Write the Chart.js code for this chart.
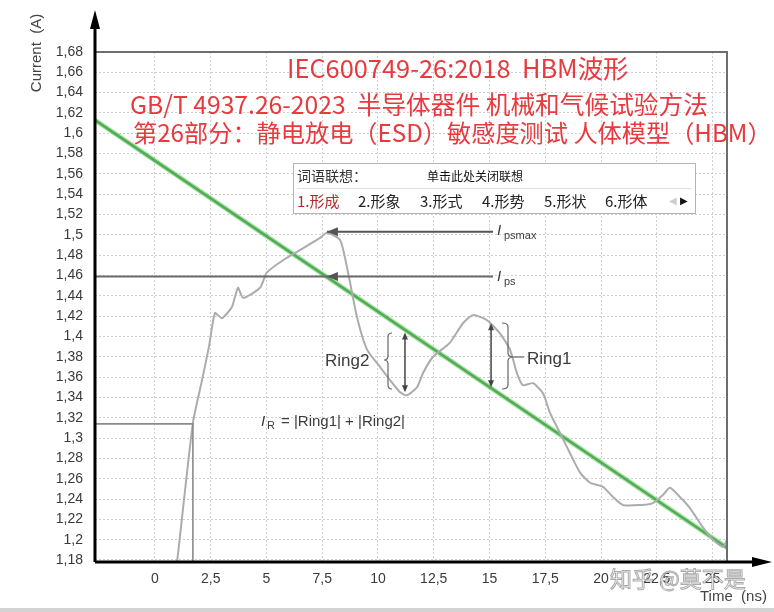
<!DOCTYPE html>
<html>
<head>
<meta charset="utf-8">
<script src="https://cdn.jsdelivr.net/npm/chart.js@4/dist/chart.umd.min.js"></script>
<style>
  html, body { margin: 0; padding: 0; background: #fff; }
</style>
</head>
<body>
<canvas id="grafico" width="774" height="612"></canvas>
<script>
// Forma de onda HBM
const timeNs = [0.85, 0.99, 1.70, 2.11, 2.42, 2.69, 3.00, 3.45, 3.72, 3.95, 4.71, 5.02, 5.74, 6.50, 7.40, 7.71,
  8.30, 8.61, 9.06, 9.51, 10.09, 10.54, 10.99, 11.30, 11.75, 12.02, 12.47, 13.23, 13.81, 14.26, 14.89,
  15.47, 15.92, 16.23, 16.50, 16.95, 17.40, 17.71, 18.16, 18.61, 19.06, 19.51, 20.09, 20.54, 20.99,
  21.75, 22.33, 22.78, 23.09, 23.54, 23.99, 24.57, 25.02, 25.47, 25.65];
const currentA = [1.160, 1.178, 1.315, 1.357, 1.390, 1.423, 1.418, 1.429, 1.448, 1.438, 1.448, 1.463, 1.475, 1.485, 1.497, 1.502,
  1.495, 1.468, 1.419, 1.387, 1.370, 1.357, 1.345, 1.342, 1.350, 1.364, 1.380, 1.394, 1.413, 1.421, 1.416,
  1.403, 1.387, 1.364, 1.352, 1.354, 1.344, 1.325, 1.305, 1.285, 1.266, 1.256, 1.252, 1.242, 1.234,
  1.234, 1.236, 1.244, 1.251, 1.242, 1.231, 1.212, 1.200, 1.193, 1.200];

// Recta verde (dos extremos)
const rectaX = [-2.69, 25.65];
const rectaY = [1.613, 1.192];

// Niveles de referencia
const nivelIps = 1.459;
const nivelIpsMax = 1.503;
const flechaX = [7.71, 15.16];
const guiaX = 1.70;
const guiaY = 1.314;
const ring2 = { x: 11.21, arriba: 1.404, abajo: 1.345 };
const ring1 = { x: 15.07, arriba: 1.413, abajo: 1.350 };

// Marcas de los ejes
const xTicks = [0, 2.5, 5, 7.5, 10, 12.5, 15, 17.5, 20, 22.5, 25];
const yTicks = [1.18, 1.2, 1.22, 1.24, 1.26, 1.28, 1.3, 1.32, 1.34, 1.36, 1.38, 1.4, 1.42, 1.44,
  1.46, 1.48, 1.5, 1.52, 1.54, 1.56, 1.58, 1.6, 1.62, 1.64, 1.66, 1.68];

const rojo = "#e8393e";
const coma = v => String(Number(v.toFixed(2))).replace(".", ",");

function flecha(ctx, x, y, dx, dy, largo, ancho) {
  // punta en (x,y) apuntando en dirección (dx,dy)
  ctx.beginPath();
  ctx.moveTo(x, y);
  ctx.lineTo(x - dx * largo - dy * ancho, y - dy * largo + dx * ancho);
  ctx.lineTo(x - dx * largo + dy * ancho, y - dy * largo - dx * ancho);
  ctx.closePath();
  ctx.fill();
}

function llave(ctx, xBrazo, xPunta, y1, y2, yMedio) {
  const xm = (xBrazo + xPunta) / 2, r = 4;
  ctx.beginPath();
  ctx.moveTo(xBrazo, y1);
  ctx.quadraticCurveTo(xm, y1, xm, y1 + r);
  ctx.lineTo(xm, yMedio - r);
  ctx.quadraticCurveTo(xm, yMedio, xPunta, yMedio);
  ctx.quadraticCurveTo(xm, yMedio, xm, yMedio + r);
  ctx.lineTo(xm, y2 - r);
  ctx.quadraticCurveTo(xm, y2, xBrazo, y2);
  ctx.stroke();
}

function textoAjustado(ctx, texto, x, y, ancho, familia) {
  ctx.font = "20px " + familia;
  const t = 20 * ancho / ctx.measureText(texto).width;
  ctx.font = t.toFixed(1) + "px " + familia;
  ctx.fillText(texto, x, y);
}

const dibujo = {
  id: "dibujo",
  beforeDraw(chart) {
    const ctx = chart.ctx;
    ctx.save();
    ctx.fillStyle = "#fff";
    ctx.fillRect(0, 0, chart.width, chart.height);
    ctx.restore();
  },
  afterDatasetsDraw(chart) {
    const ctx = chart.ctx;
    const a = chart.chartArea;
    const sx = chart.scales.x, sy = chart.scales.y;
    const px = v => sx.getPixelForValue(v), py = v => sy.getPixelForValue(v);
    ctx.save();

    // marco superior y derecho
    ctx.strokeStyle = "#6e6e6e";
    ctx.lineWidth = 2;
    ctx.beginPath();
    ctx.moveTo(a.left, a.top); ctx.lineTo(a.right, a.top); ctx.lineTo(a.right, a.bottom);
    ctx.stroke();

    // ejes con flecha
    ctx.strokeStyle = "#000";
    ctx.fillStyle = "#000";
    ctx.lineWidth = 3;
    ctx.beginPath();
    ctx.moveTo(a.left, a.bottom); ctx.lineTo(a.left, 26);
    ctx.moveTo(a.left, a.bottom); ctx.lineTo(756, a.bottom);
    ctx.stroke();
    flecha(ctx, a.left, 10, 0, -1, 19, 5);
    flecha(ctx, 772, a.bottom, 1, 0, 20, 5);

    // flechas Ipsmax e Ips
    ctx.fillStyle = "#555";
    flecha(ctx, px(flechaX[0]), py(nivelIpsMax), -1, 0, 11, 4.5);
    flecha(ctx, px(flechaX[0]), py(nivelIps), -1, 0, 11, 4.5);

    // Ring2 / Ring1
    ctx.strokeStyle = "#444";
    ctx.fillStyle = "#444";
    ctx.lineWidth = 1.5;
    [ring2, ring1].forEach(r => {
      const x = px(r.x), y1 = py(r.arriba), y2 = py(r.abajo);
      ctx.beginPath(); ctx.moveTo(x, y1 + 4); ctx.lineTo(x, y2 - 4); ctx.stroke();
      flecha(ctx, x, y1, 0, -1, 7, 3);
      flecha(ctx, x, y2, 0, 1, 7, 3);
    });
    ctx.strokeStyle = "#666";
    ctx.lineWidth = 1.2;
    llave(ctx, 392, 384, 333, 389, 360);
    llave(ctx, 502, 514, 323, 389, 357);
    ctx.beginPath(); ctx.moveTo(514, 357); ctx.lineTo(524, 357); ctx.stroke();

    ctx.fillStyle = "#3c3c3c";
    ctx.textBaseline = "middle";
    ctx.textAlign = "left";
    ctx.font = "17px 'Liberation Sans', Arial, sans-serif";
    ctx.fillText("Ring2", 325, 361);
    ctx.fillText("Ring1", 527, 359);

    // I_psmax / I_ps
    ctx.font = "italic 15px 'Liberation Sans', Arial, sans-serif";
    ctx.fillText("I", 497, py(nivelIpsMax) - 1);
    ctx.fillText("I", 497, py(nivelIps));
    ctx.font = "11px 'Liberation Sans', Arial, sans-serif";
    ctx.fillText("psmax", 504, py(nivelIpsMax) + 4);
    ctx.fillText("ps", 504, py(nivelIps) + 5);

    // I_R = |Ring1| + |Ring2|
    ctx.font = "italic 15px 'Liberation Sans', Arial, sans-serif";
    ctx.fillText("I", 261, 422);
    ctx.font = "11px 'Liberation Sans', Arial, sans-serif";
    ctx.fillText("R", 267, 426);
    ctx.font = "15px 'Liberation Sans', Arial, sans-serif";
    ctx.fillText("= |Ring1| + |Ring2|", 281, 422);

    // títulos de ejes
    ctx.fillStyle = "#444";
    ctx.font = "15px 'Liberation Sans', Arial, sans-serif";
    ctx.fillText("Time  (ns)", 700, 597);
    ctx.save();
    ctx.translate(37, 53);
    ctx.rotate(-Math.PI / 2);
    ctx.textAlign = "center";
    ctx.fillText("Current  (A)", 0, 0);
    ctx.restore();

    // textos rojos superpuestos
    ctx.fillStyle = rojo;
    const fam = "'Noto Sans CJK SC', sans-serif";
    textoAjustado(ctx, "IEC600749-26:2018  HBM波形", 287, 68, 341, fam);
    textoAjustado(ctx, "GB/T 4937.26-2023  半导体器件 机械和气候试验方法", 130, 105, 578, fam);
    textoAjustado(ctx, "第26部分：静电放电（ESD）敏感度测试 人体模型（HBM）", 133, 133, 640, fam);

    // ventana de sugerencias
    ctx.fillStyle = "#fff";
    ctx.fillRect(293, 163, 402, 50);
    ctx.strokeStyle = "#b4b4b4";
    ctx.lineWidth = 1;
    ctx.strokeRect(293.5, 163.5, 402, 50);
    ctx.strokeStyle = "#dedede";
    ctx.beginPath(); ctx.moveTo(297, 188.5); ctx.lineTo(691, 188.5); ctx.stroke();
    ctx.fillStyle = "#333";
    ctx.font = "14px 'Noto Sans CJK SC', sans-serif";
    ctx.fillText("词语联想：", 297, 176);
    ctx.fillStyle = "#111";
    ctx.font = "12px 'Noto Sans CJK SC', sans-serif";
    ctx.fillText("单击此处关闭联想", 427, 176);
    const opciones = ["1.形成", "2.形象", "3.形式", "4.形势", "5.形状", "6.形体"];
    const posX = [297, 358, 420, 482, 544, 605];
    ctx.font = "15px 'Noto Sans CJK SC', sans-serif";
    opciones.forEach((t, i) => {
      ctx.fillStyle = i === 0 ? "#b52a2a" : "#222";
      ctx.fillText(t, posX[i], 201);
    });
    ctx.font = "10px 'DejaVu Sans', sans-serif";
    ctx.fillStyle = "#cfcfcf";
    ctx.fillText("◀", 669, 201);
    ctx.fillStyle = "#111";
    ctx.fillText("▶", 680, 201);

    // marca de agua
    ctx.font = "22px 'Noto Sans CJK SC', sans-serif";
    ctx.lineWidth = 1;
    ctx.strokeStyle = "rgba(100,100,100,0.55)";
    ctx.fillStyle = "rgba(255,255,255,0.8)";
    ctx.fillText("知乎 @莫不是", 610, 579);
    ctx.strokeText("知乎 @莫不是", 610, 579);

    // franja gris inferior
    ctx.fillStyle = "#d3d3d3";
    ctx.fillRect(0, 608, chart.width, 4);
    ctx.restore();
  }
};

const fuenteEje = { family: "'Liberation Sans', Arial, sans-serif", size: 14 };
const puntosRecta = rectaX.map((t, i) => ({ x: t, y: rectaY[i] }));

new Chart(document.getElementById("grafico"), {
  type: "scatter",
  data: {
    datasets: [
      {
        label: "I_ps",
        data: [{ x: -2.69, y: nivelIps }, { x: flechaX[1], y: nivelIps }],
        showLine: true, borderColor: "#6a6a6a", borderWidth: 2, pointRadius: 0
      },
      {
        label: "I_psmax",
        data: [{ x: flechaX[0], y: nivelIpsMax }, { x: flechaX[1], y: nivelIpsMax }],
        showLine: true, borderColor: "#555", borderWidth: 2, pointRadius: 0
      },
      {
        label: "guía",
        data: [{ x: -2.69, y: guiaY }, { x: guiaX, y: guiaY }, { x: guiaX, y: 1.1 }],
        showLine: true, borderColor: "#8a8a8a", borderWidth: 1.6, pointRadius: 0
      },
      {
        label: "HBM",
        data: timeNs.map((t, i) => ({ x: t, y: currentA[i] })),
        showLine: true, borderColor: "#acacac", borderWidth: 2, pointRadius: 0, tension: 0.2
      },
      {
        label: "halo",
        data: puntosRecta,
        showLine: true, borderColor: "rgba(110,200,110,0.55)", borderWidth: 5, pointRadius: 0
      },
      {
        label: "recta",
        data: puntosRecta,
        showLine: true, borderColor: "#2b8f31", borderWidth: 2.6, pointRadius: 0
      }
    ]
  },
  options: {
    responsive: false,
    animation: false,
    devicePixelRatio: 1,
    layout: { padding: { top: 52, right: 47, left: 0, bottom: 0 } },
    plugins: { legend: { display: false }, tooltip: { enabled: false } },
    scales: {
      x: {
        type: "linear",
        min: -2.69,
        max: 25.65,
        afterBuildTicks: s => { s.ticks = xTicks.map(v => ({ value: v })); },
        afterFit: s => { s.height = 50; },
        grid: { color: "#cfcfcf", lineWidth: 1, drawTicks: false },
        border: { display: false, dash: [2, 2] },
        ticks: { callback: v => coma(v), color: "#3a3a3a", font: fuenteEje, padding: 9, maxRotation: 0, autoSkip: false }
      },
      y: {
        type: "linear",
        min: 1.178,
        max: 1.68,
        afterBuildTicks: s => { s.ticks = yTicks.map(v => ({ value: v })); },
        afterFit: s => { s.width = 95; },
        grid: { color: "#cfcfcf", lineWidth: 1, drawTicks: false },
        border: { display: false, dash: [2, 2] },
        ticks: { callback: v => coma(v), color: "#3a3a3a", font: fuenteEje, padding: 12, autoSkip: false }
      }
    }
  },
  plugins: [dibujo]
});
</script>
</body>
</html>
